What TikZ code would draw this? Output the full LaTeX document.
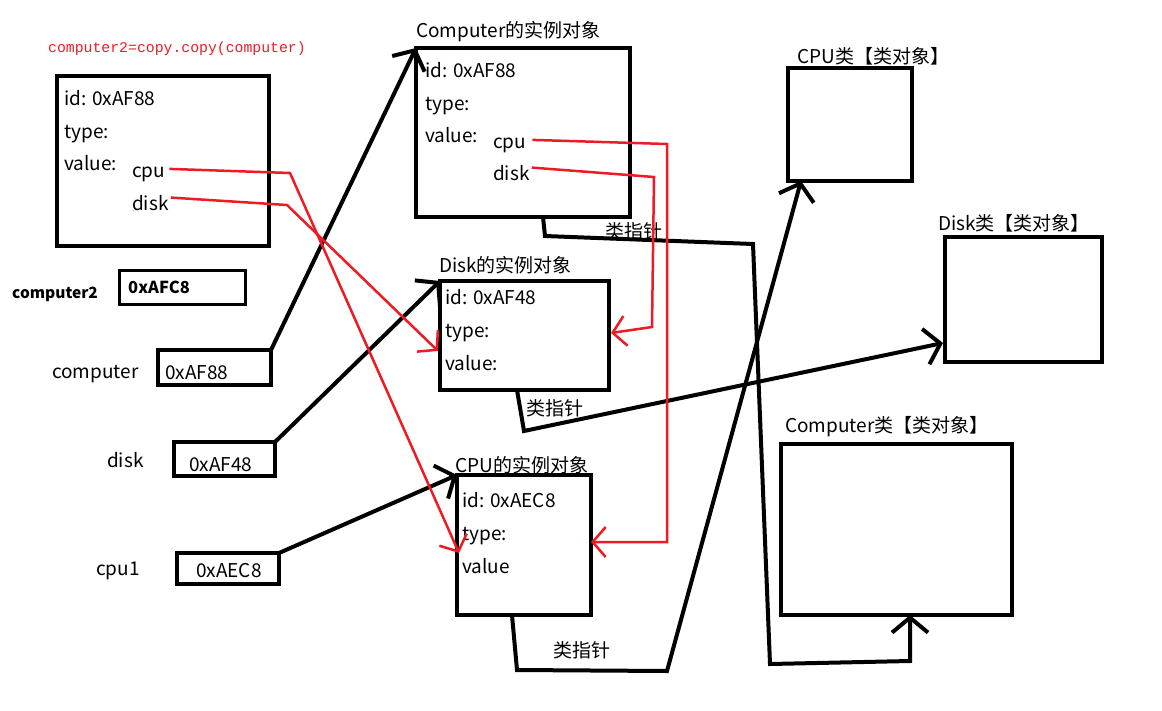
\documentclass[tikz,border=0pt]{standalone}
\usepackage{fontspec}
\setmainfont{Noto Sans CJK SC}
\newfontfamily\codefont{Liberation Mono}
\usetikzlibrary{arrows.meta}
\definecolor{pred}{RGB}{237,28,36}
\begin{document}
\begin{tikzpicture}[x=1pt,y=-1pt,
  box/.style={draw, line width=4pt, rectangle, inner sep=0pt, outer sep=0pt, anchor=north west},
  txt/.style={anchor=base west, inner sep=0pt, font=\fontsize{19}{21}\selectfont},
  ptr/.style={line width=4pt, -{Straight Barb[length=15pt,width=36pt]}},
  rptr/.style={pred, line width=2.5pt, -{Straight Barb[length=13pt,width=30pt]}},
]
\fill[white] (0,0) rectangle (1162,710);
\useasboundingbox (0,0) rectangle (1162,710);

% ---- code line
\node[anchor=base west, inner sep=0pt, text=pred, font=\codefont\fontsize{14.8}{16}\selectfont] (code) at (48,52) {computer2=copy.copy(computer)};

% ---- copied object
\node[box, minimum width=212pt, minimum height=170pt] (copyobj) at (57,76) {};
\node[txt] (cid) at (64,105) {id: 0xAF88};
\node[txt] (ctype) at (64,138) {type:};
\node[txt] (cval) at (64,170) {value:};
\node[txt] (ccpu) at (132,177) {cpu};
\node[txt] (cdisk) at (132,210) {disk};

% ---- variables
\node[anchor=base west, inner sep=0pt, font=\bfseries\fontsize{15.5}{17}\selectfont] (lc2) at (12,298) {computer2};
\node[box, line width=3pt, minimum width=126pt, minimum height=34pt] (c2box) at (119,270) {};
\node[anchor=base west, inner sep=0pt, font=\bfseries\fontsize{16.5}{18}\selectfont] (c2val) at (128,293) {0xAFC8};

\node[txt] (lcomp) at (52,378) {computer};
\node[box, minimum width=113pt, minimum height=35pt] (compbox) at (158,350) {};
\node[txt] (compval) at (165,379) {0xAF88};

\node[txt] (ldisk) at (107,467) {disk};
\node[box, minimum width=101pt, minimum height=34pt] (diskbox) at (174,442) {};
\node[txt] (diskval) at (189,471) {0xAF48};

\node[txt] (lcpu) at (96,575) {cpu1};
\node[box, minimum width=102pt, minimum height=31pt] (cpubox) at (177,553) {};
\node[txt] (cpuval) at (196,577) {0xAEC8};

% ---- Computer instance
\node[txt] (cinsttitle) at (416,37) {Computer的实例对象};
\node[box, minimum width=214pt, minimum height=169pt] (cinst) at (416,48) {};
\node[txt] (iid) at (425,77) {id: 0xAF88};
\node[txt] (itype) at (425,110) {type:};
\node[txt] (ival) at (425,142) {value:};
\node[txt] (icpu) at (493,148) {cpu};
\node[txt] (idisk) at (493,180) {disk};

% ---- Disk instance
\node[txt] (dinsttitle) at (439,272) {Disk的实例对象};
\node[box, minimum width=169pt, minimum height=109pt] (dinst) at (440,281) {};
\node[txt] (did) at (445,304) {id: 0xAF48};
\node[txt] (dtype) at (445,337) {type:};
\node[txt] (dval) at (445,370) {value:};

% ---- CPU instance
\node[txt] (pinsttitle) at (455,472) {CPU的实例对象};
\node[box, minimum width=134pt, minimum height=140pt] (pinst) at (457,475) {};
\node[txt] (pid) at (462,507) {id: 0xAEC8};
\node[txt] (ptype) at (462,540) {type:};
\node[txt] (pval) at (462,573) {value};

% ---- class objects
\node[txt] (pclasstitle) at (797,63) {CPU类【类对象】};
\node[box, minimum width=124pt, minimum height=113pt] (pclass) at (788,68) {};
\node[txt] (dclasstitle) at (938,230) {Disk类【类对象】};
\node[box, minimum width=157pt, minimum height=125pt] (dclass) at (945,237) {};
\node[txt] (cclasstitle) at (785,432) {Computer类【类对象】};
\node[box, minimum width=231pt, minimum height=171pt] (cclass) at (781,444) {};

% ---- class pointer labels
\node[txt] (kp1) at (605,238) {类指针};
\node[txt] (kp2) at (526,415) {类指针};
\node[txt] (kp3) at (553,657) {类指针};

% ---- black references
\draw[ptr] (compbox.north east) -- (cinst.north west);
\draw[ptr] (diskbox.north east) -- (dinst.north west);
\draw[ptr] (cpubox.north east) -- (pinst.north west);

\coordinate (a1) at (543,217);
\coordinate (a2) at (545,236);
\coordinate (a3) at (753,244);
\coordinate (a4) at (770,664);
\coordinate (a5) at (910,661);
\draw[ptr] (a1) -- (a2) -- (a3) -- (a4) -- (a5) -- (a5 |- cclass.south);

\coordinate (b1) at (517,390);
\coordinate (b2) at (524,431);
\coordinate (b3) at (943,343);
\draw[ptr] (b1) -- (b2) -- (b3);

\coordinate (e1) at (512,615);
\coordinate (e2) at (517,670);
\coordinate (e3) at (667,671);
\coordinate (e4) at (801,181);
\draw[ptr] (e1) -- (e2) -- (e3) -- (e4);

% ---- red references
\coordinate (r1) at (290,173);
\coordinate (r1t) at (459,553);
\draw[rptr] (ccpu.east) ++(4,-5) -- (r1) -- (r1t);
\coordinate (r2) at (287,205);
\coordinate (r2t) at (438,351);
\draw[rptr] (cdisk.east) ++(2,-5) -- (r2) -- (r2t);
\coordinate (r3) at (667,144);
\coordinate (r3b) at (667,542);
\draw[rptr] (icpu.east) ++(6,-5) -- (r3) -- (r3b) -- (pinst.east |- r3b);
\coordinate (r4) at (654,177);
\coordinate (r4b) at (652,327);
\coordinate (r4t) at (611,333);
\draw[rptr] (idisk.east) ++(2,-5) -- (r4) -- (r4b) -- (r4t);
\end{tikzpicture}
\end{document}
